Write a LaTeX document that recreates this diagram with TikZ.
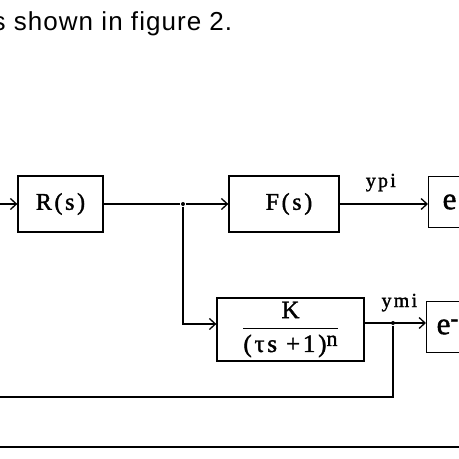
\documentclass[tikz,border=0pt]{standalone}
\usepackage{amsmath}
\usepackage{fontspec}
\usetikzlibrary{arrows.meta}
\newfontfamily\captionfont[LetterSpace=4]{Liberation Sans}
\newfontfamily\blockfont[LetterSpace=11,FakeBold=1.5]{Liberation Serif}

\begin{document}
\begin{tikzpicture}[x=1pt,y=-1pt,>={Straight Barb[length=6pt,width=11pt]},line width=1.3pt,
  block node/.style={rectangle,draw,inner sep=0pt,minimum height=56pt,font=\blockfont\fontsize{24}{26}\selectfont},
  delay node/.style={block node,anchor=west,minimum height=51pt,text width=60pt,align=left,font=\blockfont\fontsize{31}{33}\selectfont},
  tag node/.style={inner sep=0pt,font=\blockfont\fontsize{20}{22}\selectfont},
  dot node/.style={circle,fill,inner sep=0pt,minimum size=4pt}]
  \useasboundingbox (0,0) rectangle (459,459);
  \clip (0,0) rectangle (459,459);

  \node[anchor=base west,inner sep=0pt,font=\captionfont\fontsize{26}{28}\selectfont] (cap) at (-8,30.7) {s shown in figure 2.};

  \node[block node,minimum width=85pt] (R) at (60.5,204) {R(s)};
  \node[block node,minimum width=110pt] (F) at (284,204) {\hspace{10pt}F(s)};
  \node[delay node,inner xsep=14pt] (D1) at (428,202) {e};
  \node[block node,minimum width=147pt,minimum height=63pt,font=\blockfont\fontsize{25}{27}\selectfont] (G) at (290.5,329.5)
    {$\dfrac{\text{K}}{\text{(τs +1)\raisebox{6pt}{\fontsize{22}{24}\selectfont n}}}$};
  \node[delay node,inner xsep=10pt] (D2) at (426,327) {e\raisebox{8pt}{\fontsize{24}{26}\selectfont -}};

  \node[dot node] (j1) at (183,204) {};
  \node[dot node] (j2) at (393,323) {};
  \coordinate (in) at (0,204);
  \coordinate (fb) at (0,397);

  \draw[->] (in) -- (R);
  \draw (R) -- (j1);
  \draw[->] (j1) -- (F);
  \draw[->] (F.east |- j1) -- node[tag node,above=12pt,xshift=-3pt] {ypi} (D1.west |- j1);
  \draw[->] (j1) |- ([yshift=5.5pt]G.west);
  \draw[->] (G.east |- j2) -- node[tag node,above=11pt,xshift=4pt] {ymi} (D2.west |- j2);
  \draw (j2) |- (fb);

  \draw[line width=2pt] (0,447) -- (459,447);
\end{tikzpicture}
\end{document}
